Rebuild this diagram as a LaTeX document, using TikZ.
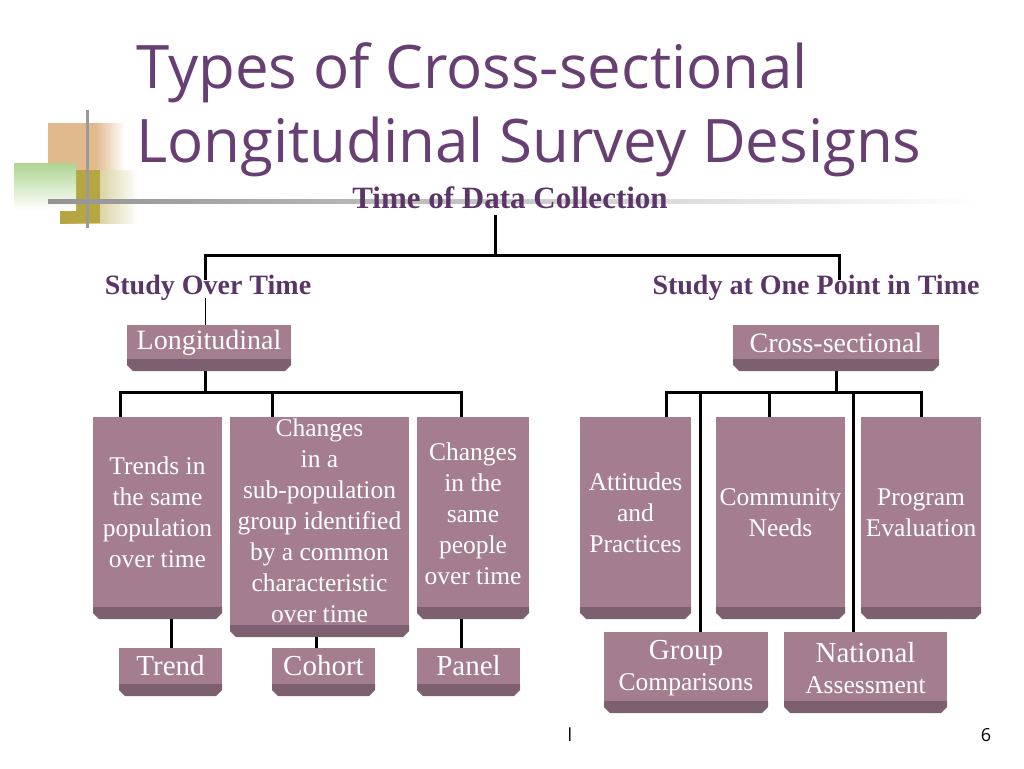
\documentclass[tikz,border=0pt]{standalone}
\usepackage{fontspec}
\setmainfont{Liberation Serif}
\newfontfamily\titlefont{Open Sans}
\definecolor{facec}{HTML}{A47E8E}
\definecolor{bevc}{HTML}{7D6070}
\definecolor{titc}{HTML}{683F73}
\definecolor{subc}{HTML}{5B3568}
\tikzset{
  conn/.style={line width=3pt,black},
  btxt/.style={text=white,align=center,font=\fontsize{25.5}{31}\selectfont,inner sep=0pt},
  lab/.style={text=subc,font=\bfseries\fontsize{28}{30}\selectfont,inner sep=0pt},
}
\newcommand\pbox[7]{%
  \node[fill=facec,inner sep=0pt,minimum width={#4-#2},minimum height={#5-#3-12}] (#1) at ({(#2+#4)/2},{(#3+#5-12)/2}) {};
  \fill[bevc] (#2,{#5-12}) -- (#4,{#5-12}) -- (#4,{#5-6}) -- ({#4-6},#5) -- ({#2+6},#5) -- (#2,{#5-6}) -- cycle;
  \node[btxt] (#1t) at ({(#2+#4)/2},#6) {#7};
}
\begin{document}
\begin{tikzpicture}[x=1pt,y=-1pt]
\useasboundingbox (0,0) rectangle (1024,768);
% logo
\fill[color={rgb,255:red,224;green,185;blue,140}] (48,123) rectangle (95,190);
\shade[left color={rgb,255:red,224;green,185;blue,140},right color=white] (95,123) rectangle (125,190);
\shade[left color={rgb,255:red,181;green,166;blue,66},right color=white] (60,170) rectangle (138,223);
\fill[color={rgb,255:red,181;green,166;blue,66}] (60,170) rectangle (100,223);
\shade[top color={rgb,255:red,175;green,212;blue,145},bottom color=white] (14,163) rectangle (76,210);
\draw[gray!80,line width=3pt] (87,110) -- (87,228);
\shade[left color=gray!85,right color=white] (48,199) rectangle (980,203);
% titles
\node[text=titc,font=\titlefont\fontsize{60}{74}\selectfont,anchor=west,align=left,inner sep=0pt] (title) at (136,110) {Types of Cross-sectional\\Longitudinal Survey Designs};
\node[text=subc,font=\bfseries\fontsize{31}{34}\selectfont,inner sep=0pt] (tdc) at (510,198) {Time of Data Collection};
% connectors top
\draw[conn] (495,215) -- (495,255);
\draw[conn] (205,255) -- (839,255);
\draw[conn] (205,253.5) -- (205,280);
\draw[conn] (839,253.5) -- (839,280);
\draw[line width=0.8pt] (205,298) -- (205,325);
\node[lab] (sot) at (208,288) {Study Over Time};
\node[lab] (sop) at (816,288) {Study at One Point in Time};
% boxes
\pbox{lon}{127}{325}{291}{371}{343}{\fontsize{28}{30}\selectfont Longitudinal}
\pbox{crs}{733}{325}{939}{371}{343}{\fontsize{28}{30}\selectfont Cross-sectional}
\draw[conn] (205,371) -- (205,392);
\draw[conn] (120,392) -- (461,392);
\draw[conn] (120,390.5) -- (120,417);
\draw[conn] (272,392) -- (272,417);
\draw[conn] (461,390.5) -- (461,417);
\draw[conn] (836,371) -- (836,392);
\draw[conn] (666,392) -- (921,392);
\draw[conn] (666,390.5) -- (666,417);
\draw[conn] (769,392) -- (769,417);
\draw[conn] (921,390.5) -- (921,417);
\draw[conn] (700,392) -- (700,632);
\draw[conn] (853,392) -- (853,632);
\pbox{trends}{93}{417}{222}{619}{512}{Trends in\\the same\\population\\over time}
\pbox{sub}{230}{417}{409}{637}{521}{Changes\\in a\\sub-population\\group identified\\by a common\\characteristic\\over time}
\pbox{same}{417}{417}{529}{619}{514}{Changes\\in the\\same\\people\\over time}
\pbox{att}{580}{417}{691}{619}{513}{Attitudes\\and\\Practices}
\pbox{com}{716}{417}{845}{619}{513}{Community\\Needs}
\pbox{prog}{861}{417}{981}{619}{513}{Program\\Evaluation}
\pbox{trend}{119}{648}{222}{696}{666}{\fontsize{29}{30}\selectfont Trend}
\pbox{cohort}{272}{648}{375}{696}{666}{\fontsize{29}{30}\selectfont Cohort}
\pbox{panel}{417}{648}{520}{696}{666}{\fontsize{29}{30}\selectfont Panel}
\pbox{grp}{604}{632}{768}{713}{668}{\fontsize{29}{34}\selectfont Group\\Comparisons}
\pbox{nat}{784}{632}{947}{713}{668}{\fontsize{29}{34}\selectfont National\\Assessment}
\draw[conn] (171,619) -- (171,648);
\draw[conn] (316,637) -- (316,648);
\draw[conn] (461,619) -- (461,648);
\node[font=\titlefont\fontsize{18}{20}\selectfont,inner sep=0pt] (pl) at (570,735) {l};
\node[font=\titlefont\fontsize{18}{20}\selectfont,inner sep=0pt] (pn) at (986,735) {6};
\end{tikzpicture}
\end{document}
